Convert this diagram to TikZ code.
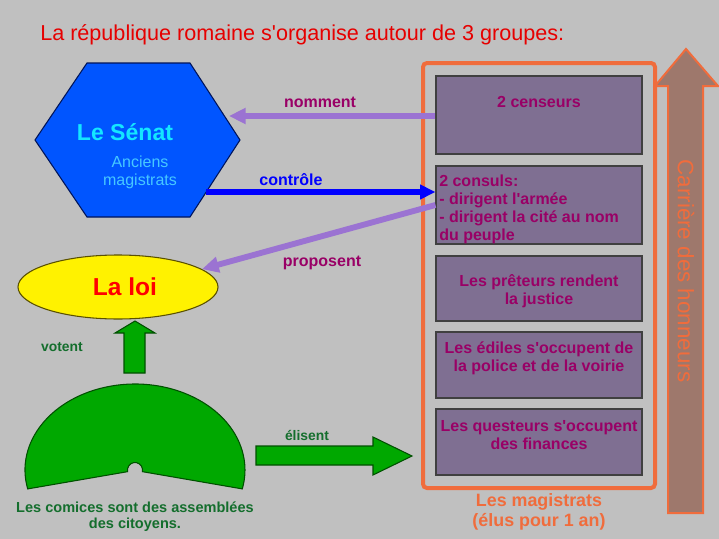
\documentclass[tikz,border=0pt]{standalone}
\usepackage{fontspec}
\setmainfont{Liberation Sans}[Ligatures=TeXOff]
\usetikzlibrary{shapes.geometric,arrows.meta,calc}
\definecolor{bg}{RGB}{192,192,192}
\definecolor{hexblue}{RGB}{0,85,255}
\definecolor{hexline}{RGB}{0,20,90}
\definecolor{cyantxt}{RGB}{20,230,255}
\definecolor{lightcyan}{RGB}{70,200,255}
\definecolor{lav}{RGB}{155,115,210}
\definecolor{plum}{RGB}{153,0,102}
\definecolor{boxfill}{RGB}{127,111,146}
\definecolor{orng}{RGB}{240,108,60}
\definecolor{brownarrow}{RGB}{158,120,108}
\definecolor{grn}{RGB}{0,168,0}
\definecolor{grnline}{RGB}{0,80,0}
\definecolor{dkgrn}{RGB}{20,110,45}
\definecolor{titlered}{RGB}{230,0,0}
\definecolor{loiline}{RGB}{90,80,0}
\begin{document}
\begin{tikzpicture}[x=0.75pt,y=-0.75pt,
  magbox/.style={draw=black!75, line width=0.8pt, fill=boxfill, minimum width=154.5pt, inner sep=0pt},
  boxtext/.style={text=plum, font=\bfseries\fontsize{12}{13.5}\selectfont, align=center, inner sep=0pt},
  lavarrow/.style={draw=lav, line width=4.4pt, -{Triangle[length=12.5pt,width=11.5pt]}},
  bluearrow/.style={draw=blue, line width=3.8pt, -{Triangle[length=11.5pt,width=10.5pt]}},
  plumlabel/.style={text=plum, font=\bfseries\fontsize{12}{14}\selectfont, inner sep=0pt},
  greenlabel/.style={text=dkgrn, font=\bfseries\fontsize{10.4}{12}\selectfont, inner sep=0pt},
  greenshape/.style={fill=grn, draw=grnline, line width=0.8pt},
]
\fill[bg] (0,0) rectangle (719,539);
\useasboundingbox (0,0) rectangle (719,539);

% title
\node[text=titlered, font=\fontsize{16.2}{19}\selectfont, anchor=west, inner sep=0pt] (title) at (40,35) {La république romaine s'organise autour de 3 groupes:};

% hexagon (Senate)
\draw[fill=hexblue, draw=hexline, line width=0.8pt] (35,140) -- (87,63) -- (190,63) -- (240,140) -- (190,217) -- (87,217) -- cycle;
\coordinate (hexN) at (229,116);
\coordinate (hexC) at (206,192);
\node[text=cyantxt, font=\bfseries\fontsize{17.3}{20}\selectfont, inner sep=0pt] (senat) at (125,132) {Le Sénat};
\node[text=lightcyan, font=\fontsize{12}{13.5}\selectfont, align=center, inner sep=0pt] (anciens) at (140,172.5) {Anciens\\magistrats};

% orange frame
\draw[orng, line width=3pt, rounded corners=3pt] (423,63) rectangle (655,488);

% magistrate boxes
\node[magbox, minimum height=58.5pt] (b1) at (539,115) {};
\node[magbox, minimum height=58.5pt] (b2) at (539,205) {};
\node[magbox, minimum height=48.75pt] (b3) at (539,288.5) {};
\node[magbox, minimum height=49.5pt] (b4) at (539,365) {};
\node[magbox, minimum height=49.5pt] (b5) at (539,442) {};

\node[boxtext] (t1) at (539,102) {2 censeurs};
\node[boxtext, align=left, anchor=north west] (t2) at (439,175) {2 consuls:\\- dirigent l'armée\\- dirigent la cité au nom\\du peuple};
\node[boxtext] (t3) at (539,291) {Les prêteurs rendent\\la justice};
\node[boxtext] (t4) at (539,358) {Les édiles s'occupent de\\la police et de la voirie};
\node[boxtext] (t5) at (539,435) {Les questeurs s'occupent\\des finances};

\node[text=orng, font=\bfseries\fontsize{13.4}{15}\selectfont, align=center, inner sep=0pt] (magis) at (539,512) {Les magistrats\\(élus pour 1 an)};

% career arrow
\draw[fill=brownarrow, draw=orng, line width=1.5pt] (686,49) -- (718,86) -- (703,86) -- (703,513) -- (668,513) -- (668,86) -- (655,86) -- cycle;
\node[text=orng, font=\fontsize{16.8}{19}\selectfont, rotate=-90, inner sep=0pt] (carriere) at (686,271) {Carrière des honneurs};

% law ellipse
\node[ellipse, fill=yellow, draw=loiline, line width=0.8pt, minimum width=150pt, minimum height=48pt, inner sep=0pt] (loi) at (118,287) {};
\node[text=red, font=\bfseries\fontsize{18.4}{21}\selectfont, inner sep=0pt] (loitxt) at (125,287) {La loi};

% connectors
\draw[lavarrow] (b1.west |- hexN) -- (hexN);
\node[plumlabel] (lnom) at (320,102) {nomment};
\draw[bluearrow] (hexC) -- (b2.west |- hexC);
\node[text=blue, font=\bfseries\fontsize{12}{14}\selectfont, inner sep=0pt] (lcon) at (291,180) {contrôle};
\draw[lavarrow] (b2.west) -- (loi.12);
\node[plumlabel] (lpro) at (322,263) {proposent};

% comices
\coordinate (cc) at (135,470);
\draw[greenshape] ($(cc)+(167.3:110 and 86)$) arc[start angle=167.3, end angle=372.7, x radius=110, y radius=86]
  -- ($(cc)+(12.7:7.5)$) arc[start angle=372.7, end angle=167.3, radius=7.5] -- cycle;
\node[greenlabel, font=\bfseries\fontsize{10.9}{12}\selectfont, align=center] (lcom) at (135,517) {Les comices sont des assemblées\\des citoyens.};

% vote arrow
\draw[greenshape] (135,321) -- (155,333) -- (145,333) -- (145,373) -- (124,373) -- (124,333) -- (115,333) -- cycle;
\node[greenlabel] (lvot) at (62,347) {votent};

% elect arrow
\draw[greenshape] (256,446) -- (373,446) -- (373,437) -- (412,456) -- (373,475) -- (373,465) -- (256,465) -- cycle;
\node[greenlabel] (leli) at (307,435) {élisent};
\end{tikzpicture}
\end{document}
